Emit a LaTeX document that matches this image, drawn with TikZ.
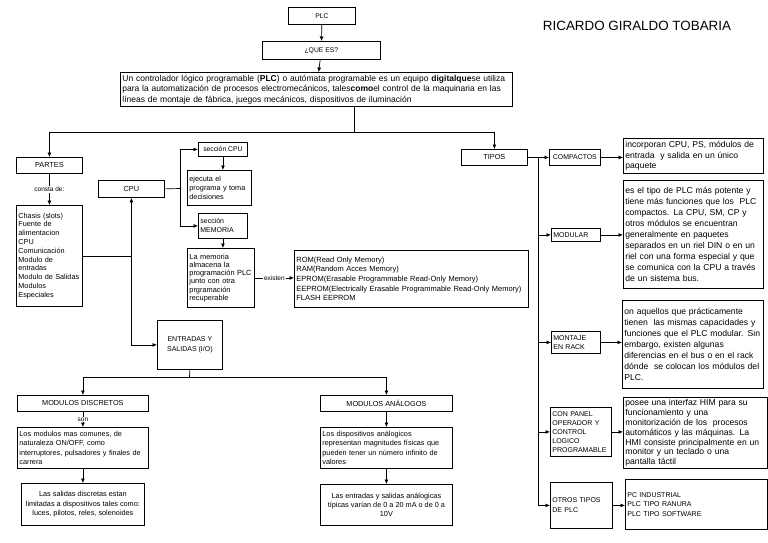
\documentclass[tikz,border=0pt]{standalone}
\usepackage{fontspec}
\setmainfont{Liberation Sans}
\usetikzlibrary{arrows.meta}
\begin{document}
\begin{tikzpicture}[x=1pt,y=-1pt,
 box/.style={draw, line width=0.8pt, inner xsep=2pt, inner ysep=0pt, anchor=north west, font=\fontsize{7.3}{8.8}\selectfont},
 lbox/.style={box, align=left},
 cbox/.style={box, align=center},
 conn/.style={line width=0.7pt, -{Latex[length=4.5pt,width=4pt]}},
 plain/.style={line width=0.7pt},
 lbl/.style={fill=white, inner sep=1pt, font=\fontsize{6.5}{7}\selectfont},
 desc/.style={lbox, font=\fontsize{8.6}{11}\selectfont},
 typ/.style={lbox, font=\fontsize{7}{9}\selectfont}
]
\useasboundingbox (0,0) rectangle (768,543);

\node[font=\fontsize{13.4}{15}\selectfont] (title) at (637,26) {RICARDO GIRALDO TOBARIA};

\node[cbox, minimum width=67pt, minimum height=17pt, font=\fontsize{6.8}{8}\selectfont] (plc) at (288,7) {PLC};
\node[cbox, minimum width=118pt, minimum height=18pt, font=\fontsize{6.8}{8}\selectfont] (que) at (262,41) {¿QUE ES?};
\node[lbox, minimum width=392pt, minimum height=34pt, text width=388pt, font=\fontsize{8.5}{10.4}\selectfont] (def) at (120,72)
 {Un controlador lógico programable (\textbf{PLC}) o autómata programable es un equipo \textbf{digitalque}se utiliza\\
 para la automatización de procesos electromecánicos, tales\textbf{como}el control de la maquinaria en las\\
 líneas de montaje de fábrica, juegos mecánicos, dispositivos de iluminación};

\node[cbox, minimum width=66pt, minimum height=16pt] (partes) at (16,157) {PARTES};
\node[lbox, minimum width=66pt, minimum height=101pt, text width=62pt] (chasis) at (16,205)
 {Chasis (slots)\\Fuente de\\alimentacion\\CPU\\Comunicación\\Modulo de\\entradas\\Modulo de Salidas\\Modulos\\Especiales};
\node[cbox, minimum width=66pt, minimum height=17pt] (cpu) at (98,180) {CPU};
\node[cbox, minimum width=49pt, minimum height=14pt, font=\fontsize{6.8}{8}\selectfont] (secpu) at (198,142) {sección CPU};
\node[lbox, minimum width=64pt, minimum height=35pt, text width=60pt] (ejec) at (187,170) {ejecuta el\\programa y toma\\decisiones};
\node[lbox, minimum width=49pt, minimum height=25pt, text width=45pt, font=\fontsize{7}{9}\selectfont] (secmem) at (198,213) {sección\\MEMORIA};
\node[lbox, minimum width=67pt, minimum height=59pt, text width=63pt, font=\fontsize{7.4}{8.2}\selectfont] (mem) at (187,248)
 {La memoria\\almacena la\\programación PLC\\junto con otra\\prgramación\\recuperable};
\node[lbox, minimum width=234pt, minimum height=57pt, text width=230pt, font=\fontsize{7.5}{9.6}\selectfont] (rom) at (294,250)
 {ROM(Read Only Memory)\\RAM(Random Acces Memory)\\EPROM(Erasable Programmable Read-Only Memory)\\EEPROM(Electrically Erasable Programmable Read-Only Memory)\\FLASH EEPROM};
\node[cbox, minimum width=65pt, minimum height=49pt, font=\fontsize{7}{9.5}\selectfont] (es) at (157,320) {ENTRADAS Y\\SALIDAS (I/O)};

\node[cbox, minimum width=131pt, minimum height=16pt] (disc) at (17,395) {MODULOS DISCRETOS};
\node[lbox, minimum width=131pt, minimum height=41pt, text width=127pt, font=\fontsize{7.3}{9.3}\selectfont] (discd) at (17,427)
 {Los modulos mas comunes, de\\naturaleza ON/OFF, como\\interruptores, pulsadores y finales de\\carrera};
\node[cbox, minimum width=123pt, minimum height=42pt, font=\fontsize{7.3}{9.3}\selectfont] (disco) at (21,483)
 {Las salidas discretas estan\\limitadas a dispositivos tales como:\\luces, pilotos, reles, solenoides};
\node[cbox, minimum width=132pt, minimum height=16pt] (anal) at (320,395) {MODULOS ANÁLOGOS};
\node[lbox, minimum width=132pt, minimum height=41pt, text width=128pt, font=\fontsize{7.3}{9.3}\selectfont] (anald) at (320,427)
 {Los dispositivos análogicos\\representan magnitudes físicas que\\pueden tener un número infinito de\\valores};
\node[cbox, minimum width=132pt, minimum height=41pt, font=\fontsize{7.3}{9.3}\selectfont] (analo) at (320,484)
 {Las entradas y salidas análogicas\\típicas varían de 0 a 20 mA o de 0 a\\10V};

\node[cbox, minimum width=66pt, minimum height=16pt] (tipos) at (461,149) {TIPOS};
\node[cbox, minimum width=51pt, minimum height=16pt, inner xsep=0pt, font=\fontsize{6.9}{8}\selectfont] (comp) at (549,149) {COMPACTOS};
\node[desc, minimum width=140pt, minimum height=35pt, text width=136pt, font=\fontsize{8.6}{10.3}\selectfont] (compd) at (623,138)
 {incorporan CPU, PS, módulos de\\entrada\ \ y salida en un único\\paquete};
\node[typ, minimum width=49pt, minimum height=13pt, text width=45pt] (modu) at (551,228) {MODULAR};
\node[desc, minimum width=140pt, minimum height=108pt, text width=136pt] (modud) at (623,180)
 {es el tipo de PLC más potente y\\tiene más funciones que los\ \ PLC\\compactos. La CPU, SM, CP y\\otros módulos se encuentran\\generalmente en paquetes\\separados en un riel DIN o en un\\riel con una forma especial y que\\se comunica con la CPU a través\\de un sistema bus.};
\node[typ, minimum width=49pt, minimum height=22pt, text width=45pt] (mont) at (551,331) {MONTAJE\\EN RACK};
\node[desc, minimum width=141pt, minimum height=88pt, text width=137pt] (montd) at (622,300)
 {on aquellos que prácticamente\\tienen\ \ las mismas capacidades y\\funciones que el PLC modular. Sin\\embargo, existen algunas\\diferencias en el bus o en el rack\\dónde\ \ se colocan los módulos del\\PLC.};
\node[typ, minimum width=61pt, minimum height=49pt, text width=57pt] (panel) at (550,407) {CON PANEL\\OPERADOR Y\\CONTROL\\LOGICO\\PROGRAMABLE};
\node[desc, minimum width=144pt, minimum height=71pt, text width=140pt, font=\fontsize{8.6}{9.9}\selectfont] (paneld) at (623,397)
 {posee una interfaz HIM para su\\funcionamiento y una\\monitorización de los\ \ procesos\\automáticos y las máquinas. La\\HMI consiste principalmente en un\\monitor y un teclado o una\\pantalla táctil};
\node[typ, minimum width=62pt, minimum height=46pt, text width=58pt, font=\fontsize{7}{10}\selectfont] (otros) at (550,482) {OTROS TIPOS\\DE PLC};
\node[lbox, minimum width=142pt, minimum height=50pt, text width=138pt, font=\fontsize{7}{9.6}\selectfont] (otrosd) at (625,479)
 {PC INDUSTRIAL\\PLC TIPO RANURA\\PLC TIPO SOFTWARE};

% connectors
\draw[conn] (plc) -- (que);
\draw[conn] (que) -- (def);
\coordinate (j1) at (354,132);
\draw[plain] (def.south -| j1) -- (j1);
\draw[conn] (j1) -| (partes.north);
\draw[conn] (j1) -| (tipos.north);
\draw[conn] (partes) -- node[lbl]{consta de:} (chasis);
\draw[plain] (chasis.east) -- (chasis.east -| cpu.south);
\draw[conn] (cpu.south |- es.west) -- (cpu.south);
\draw[conn] (cpu.south |- es.west) -- (es.west);
\coordinate (j2) at (180,188.5);
\draw[plain] (cpu.east) -- (j2);
\draw[conn] (j2) |- (secpu.west);
\draw[conn] (j2) |- (secmem.west);
\draw[conn] (secpu.south) -- (secpu.south |- ejec.north);
\draw[conn] (secmem.south) -- (secmem.south |- mem.north);
\draw[conn] (mem.east) -- node[lbl]{existen} (mem.east -| rom.west);
\coordinate (j3) at (189.5,377);
\draw[plain] (es.south) -- (j3);
\draw[conn] (j3) -| (disc.north);
\draw[conn] (j3) -| (anal.north);
\draw[conn] (disc) -- node[lbl]{son} (discd);
\draw[conn] (discd) -- (disco);
\draw[conn] (anal) -- (anald);
\draw[conn] (anald) -- (analo);
\coordinate (j4) at (538,157);
\draw[conn] (tipos.east) -- (comp.west);
\draw[conn] (j4) |- (modu.west);
\draw[conn] (j4) |- (mont.west);
\draw[conn] (j4) |- (panel.west);
\draw[conn] (j4) |- (otros.west);
\draw[conn] (comp.east) -- (comp.east -| compd.west);
\draw[conn] (modu.east) -- (modu.east -| modud.west);
\draw[conn] (mont.east) -- (mont.east -| montd.west);
\draw[conn] (panel.east) -- (panel.east -| paneld.west);
\draw[conn] (otros.east) -- (otros.east -| otrosd.west);
\end{tikzpicture}
\end{document}
